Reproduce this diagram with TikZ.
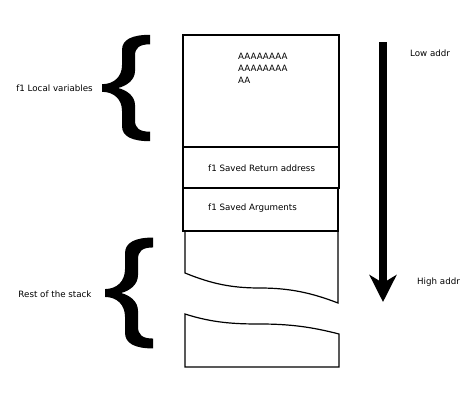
\documentclass[tikz,border=0pt]{standalone}
\usepackage{fontspec}
\setmainfont{DejaVu Sans}
\usetikzlibrary{arrows.meta}
\tikzset{
  box/.style={draw=black, line width=1.2pt, minimum width=156pt, inner sep=0pt, outer sep=0pt},
  lbl/.style={font=\fontsize{8.7}{12}\selectfont, inner sep=0pt, text=black},
  piece/.style={draw=black, line width=1.2pt},
  bigarrow/.style={line width=8pt, -{Stealth[length=27pt, width=27pt, inset=8pt]}},
  bracefill/.style={fill=black}
}
\newcommand{\bracepath}{%
  (0,-4) .. controls (12,-4) and (20,-12) .. (20,-24)
  -- (20,-40) .. controls (20,-51) and (30,-56) .. (48,-56)
  -- (48,-46) .. controls (37,-46) and (33,-42) .. (33,-34)
  -- (33,-18) .. controls (33,-8) and (24,-2) .. (16,0)
  .. controls (24,2) and (33,8) .. (33,18)
  -- (33,34) .. controls (33,42) and (37,46) .. (48,46)
  -- (48,56) .. controls (30,56) and (20,51) .. (20,40)
  -- (20,24) .. controls (20,12) and (12,4) .. (0,4) -- cycle}
\begin{document}
\begin{tikzpicture}[x=1pt, y=-1pt]
\useasboundingbox (0,0) rectangle (474,415);
% stack frame boxes
\node[box, minimum height=112pt] (locals) at (261,91) {};
\node[box, minimum height=41pt] (ret) at (261,167.5) {};
\node[box, minimum width=155pt, minimum height=43pt] (args) at (260.5,209.5) {};
\node[lbl, anchor=north west, align=left] (aaa) at (238,53) {AAAAAAAA\\AAAAAAAA\\AA};
\node[lbl, anchor=west] (rettxt) at (208,168) {f1 Saved Return address};
\node[lbl, anchor=west] (argtxt) at (208,208.5) {f1 Saved Arguments};
% broken rest of stack
\draw[piece] (185,231) -- (185,273)
  .. controls (212,284) and (232,288) .. (260,288)
  .. controls (290,288) and (312,293) .. (338,303) -- (338,231);
\draw[piece] (185,314)
  .. controls (213,323) and (235,324) .. (260,324)
  .. controls (290,324) and (312,327) .. (339,334)
  -- (339,367) -- (185,367) -- cycle;
% braces
\fill[bracefill, shift={(102,88)}, yscale=0.95] \bracepath;
\fill[bracefill, shift={(105,293)}, yscale=0.99] \bracepath;
\node[lbl] (loclbl) at (54.5,88.5) {f1 Local variables};
\node[lbl] (restlbl) at (55,294.5) {Rest of the stack};
% direction arrow
\coordinate (arrtop) at (383,42);
\coordinate (arrbot) at (383,302);
\draw[bigarrow] (arrtop) -- (arrbot);
\node[lbl, anchor=west] (low) at (410,53.5) {Low addr};
\node[lbl, anchor=west] (high) at (417,282.5) {High addr};
\end{tikzpicture}
\end{document}
